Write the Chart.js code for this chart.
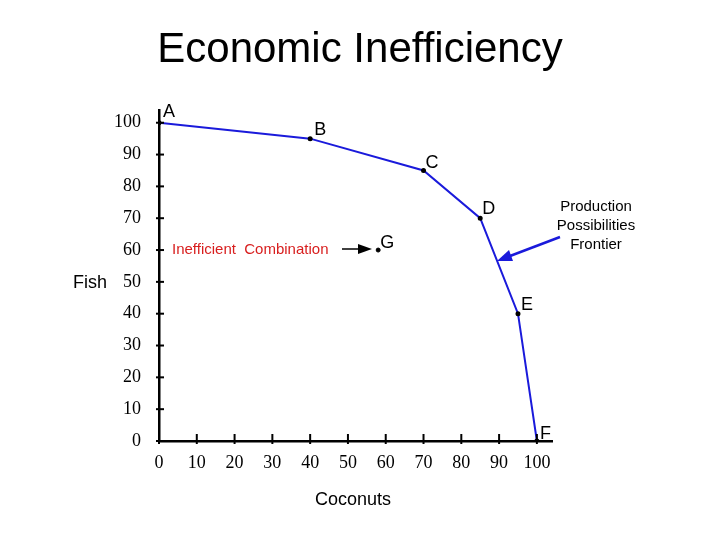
<!DOCTYPE html>
<html><head><meta charset="utf-8">
<script src="https://cdn.jsdelivr.net/npm/chart.js@4"></script>
<style>html,body{margin:0;background:#fff}#wrap{width:720px;height:540px;position:relative}</style>
</head><body><div id="wrap"><canvas id="c"></canvas></div>
<script>
// points on the frontier
const pointNames = ["A", "B", "C", "D", "E", "F"];
const coconuts = [0, 40, 70, 85, 95, 100];
const fish = [100, 95, 85, 70, 40, 0];
const gPoint = { x: 58, y: 60 };
const tickValues = [0, 10, 20, 30, 40, 50, 60, 70, 80, 90, 100];

const labelOffsets = { A: [4, -6], B: [4, -4], C: [2, -2], D: [2, -4], E: [3, -4], F: [3, -2] };

const extras = {
  id: 'extras',
  afterDraw(chart) {
    const ctx = chart.ctx, xs = chart.scales.x, ys = chart.scales.y;
    ctx.save();
    // tick marks crossing axes
    ctx.strokeStyle = '#000'; ctx.lineWidth = 2;
    tickValues.forEach(v => {
      const px = xs.getPixelForValue(v), py = ys.getPixelForValue(v);
      ctx.beginPath(); ctx.moveTo(px, xs.top - 7); ctx.lineTo(px, xs.top + 3); ctx.stroke();
      ctx.beginPath(); ctx.moveTo(ys.right - 3, py); ctx.lineTo(ys.right + 5, py); ctx.stroke();
    });
    // point letters
    ctx.fillStyle = '#000'; ctx.font = '18px Arial'; ctx.textBaseline = 'alphabetic';
    pointNames.forEach((n, i) => {
      const o = labelOffsets[n];
      ctx.fillText(n, xs.getPixelForValue(coconuts[i]) + o[0], ys.getPixelForValue(fish[i]) + o[1]);
    });
    ctx.fillText('G', xs.getPixelForValue(gPoint.x) + 2, ys.getPixelForValue(gPoint.y) - 2);
    // axis titles
    ctx.textAlign = 'center';
    ctx.fillText('Fish', 90, 288);
    ctx.fillText('Coconuts', 353, 505);
    // inefficient combination
    ctx.fillStyle = '#d81e1e'; ctx.font = '15px Arial'; ctx.textAlign = 'left';
    ctx.fillText('Inefficient  Combination', 172, 254);
    ctx.strokeStyle = '#000'; ctx.lineWidth = 1.5;
    ctx.beginPath(); ctx.moveTo(342, 249); ctx.lineTo(362, 249); ctx.stroke();
    ctx.fillStyle = '#000';
    ctx.beginPath(); ctx.moveTo(372, 249); ctx.lineTo(358, 244); ctx.lineTo(358, 254); ctx.closePath(); ctx.fill();
    // PPF label
    ctx.font = '15px Arial'; ctx.textAlign = 'center';
    ['Production', 'Possibilities', 'Frontier'].forEach((t, i) => ctx.fillText(t, 596, 211 + i * 19));
    ctx.strokeStyle = '#1a1adb'; ctx.fillStyle = '#1a1adb'; ctx.lineWidth = 2.5;
    ctx.beginPath(); ctx.moveTo(560, 237); ctx.lineTo(510, 256); ctx.stroke();
    ctx.beginPath(); ctx.moveTo(497, 261); ctx.lineTo(509, 250); ctx.lineTo(513, 261); ctx.closePath(); ctx.fill();
    ctx.restore();
  }
};

new Chart(document.getElementById('c'), {
  type: 'line',
  data: {
    datasets: [{
      data: coconuts.map((x, i) => ({ x: x, y: fish[i] })),
      borderColor: '#1a1adb', borderWidth: 2,
      pointRadius: 1.5, pointBackgroundColor: '#000', pointBorderColor: '#000',
      tension: 0
    }, {
      data: [gPoint], showLine: false,
      pointRadius: 2, pointBackgroundColor: '#000', pointBorderColor: '#000'
    }]
  },
  options: {
    responsive: true, maintainAspectRatio: false, animation: false,
    layout: { padding: { top: 110, right: 168 } },
    plugins: {
      legend: { display: false }, tooltip: { enabled: false },
      title: { display: false }
    },
    scales: {
      x: {
        type: 'linear', min: 0, max: 104,
        afterFit: s => { s.height = 99; },
        afterBuildTicks: s => { s.ticks = tickValues.map(v => ({ value: v })); },
        grid: { display: false },
        border: { display: true, color: '#000', width: 2.5 },
        ticks: { color: '#000', font: { family: 'Liberation Serif', size: 18 }, padding: 3, maxRotation: 0 }
      },
      y: {
        min: 0, max: 104,
        afterFit: s => { s.width = 159; },
        afterBuildTicks: s => { s.ticks = tickValues.map(v => ({ value: v })); },
        grid: { display: false },
        border: { display: true, color: '#000', width: 2.5 },
        ticks: { color: '#000', font: { family: 'Liberation Serif', size: 18 }, padding: 10 }
      }
    }
  },
  plugins: [extras]
});

// title
const t = document.createElement('div');
t.textContent = 'Economic Inefficiency';
t.style.cssText = 'position:absolute;top:24px;left:0;width:720px;text-align:center;font:42px Arial;color:#000';
document.getElementById('wrap').appendChild(t);
</script></body></html>
